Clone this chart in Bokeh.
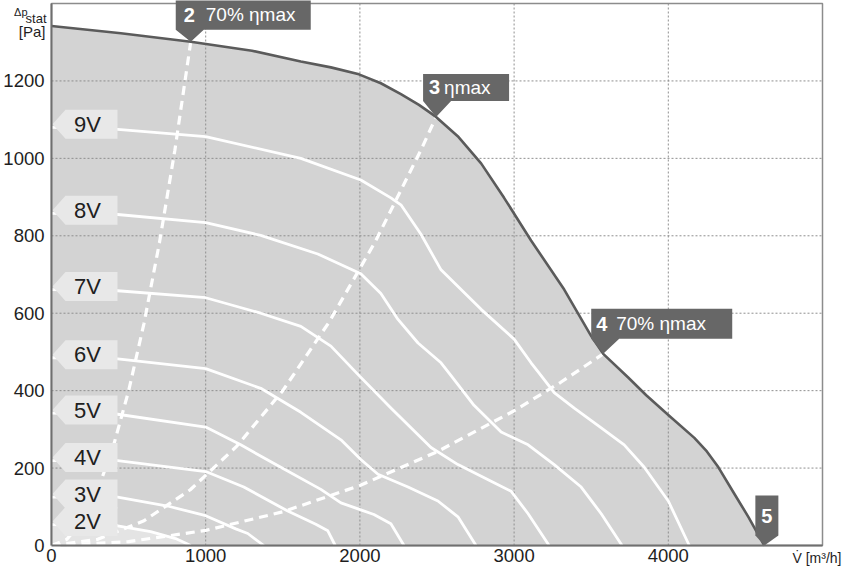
from bokeh.plotting import figure
from bokeh.models import Range1d, Label
from bokeh.embed import file_html
from bokeh.resources import INLINE
from bokeh.core.properties import value

# ---------------- data ----------------
X_TICKS = [0, 1000, 2000, 3000, 4000]
Y_TICKS = [0, 200, 400, 600, 800, 1000, 1200]

# maximum curve (fan characteristic envelope)
max_v = [0, 450, 903, 1300, 1617, 1812, 1994, 2136, 2266, 2383, 2494, 2640, 2786, 2935,
         3110, 3325, 3500, 3578, 3740, 3857, 4000, 4169, 4250, 4325, 4429, 4519, 4623]
max_p = [1342, 1323, 1301, 1278, 1250, 1235, 1217, 1194, 1166, 1138, 1107, 1055, 987, 898,
         788, 661, 541, 495, 434, 388, 337, 278, 243, 202, 133, 74, 0]

volt_labels = ["9V", "8V", "7V", "6V", "5V", "4V", "3V", "2V"]

v9_v = [0, 429, 1000, 1617, 2006, 2201, 2266, 2396, 2526, 2786, 3000, 3110, 3175,
        3260, 3390, 3565, 3714, 3844, 4000, 4136]
v9_p = [1080, 1075, 1056, 1000, 944, 898, 880, 804, 712, 610, 533, 472, 439,
        395, 355, 304, 260, 202, 115, 0]

v8_v = [0, 429, 1000, 1357, 1727, 2006, 2136, 2247, 2377, 2526, 2591, 2740, 2916,
        3091, 3260, 3435, 3565, 3700]
v8_p = [858, 855, 834, 801, 753, 702, 651, 584, 523, 472, 439, 362, 293,
        260, 209, 151, 82, 0]

v7_v = [0, 429, 1000, 1357, 1617, 1812, 1987, 2201, 2461, 2636, 2851, 2981, 3091, 3227]
v7_p = [661, 658, 640, 600, 566, 515, 442, 355, 253, 209, 166, 140, 82, 0]

v6_v = [0, 429, 1000, 1357, 1617, 1877, 2006, 2117, 2312, 2506, 2636, 2753]
v6_p = [485, 482, 457, 406, 344, 273, 222, 184, 151, 115, 74, 0]

v5_v = [0, 429, 1000, 1227, 1487, 1747, 1877, 2006, 2091, 2201, 2286]
v5_p = [342, 339, 306, 260, 202, 145, 110, 92, 80, 56, 0]

v4_v = [0, 429, 1000, 1247, 1532, 1714, 1792, 1840]
v4_p = [219, 219, 191, 151, 89, 55, 38, 0]

v3_v = [0, 429, 753, 1000, 1195, 1273, 1377]
v3_p = [125, 125, 102, 77, 43, 31, 0]

v2_v = [0, 429, 643, 805, 903]
v2_p = [54, 51, 36, 18, 0]

# dashed efficiency system curves
eta2_v = [0, 100, 200, 300, 400, 500, 600, 700, 800, 903]
eta2_p = [0, 16, 64, 144, 255, 399, 574, 782, 1021, 1301]
eta3_v = [0, 300, 600, 900, 1200, 1500, 1800, 2100, 2400, 2494]
eta3_p = [0, 16, 64, 144, 256, 400, 577, 785, 1025, 1107]
eta4_v = [0, 500, 1000, 1500, 2000, 2500, 3000, 3300, 3578]
eta4_p = [0, 10, 39, 87, 155, 242, 348, 421, 495]

# operating point callouts
call_num = ["2", "3", "4", "5"]
call_text = ["70% ηmax", "ηmax", "70% ηmax", ""]
call_v = [903, 2494, 3578, 4623]
call_p = [1301, 1107, 495, 0]

# ---------------- layout constants ----------------
FONT = "Liberation Sans"
W, H = 842, 566
X_MAX, Y_MAX = 5000, 1400
PL, PR, PT, PB = 51, 20, 3, 21           # pixel margins of the data area inside the canvas
SX = (W - PL - PR) / X_MAX               # px per m3/h
SY = (H - PT - PB) / Y_MAX               # px per Pa
DX, DY = 1.0 / SX, 1.0 / SY              # data units per pixel

p = figure(width=W, height=H,
           x_range=Range1d(-PL * DX, X_MAX + PR * DX),
           y_range=Range1d(-PB * DY, Y_MAX + PT * DY),
           output_backend="svg", toolbar_location=None,
           min_border_left=0, min_border_right=0, min_border_top=0, min_border_bottom=0,
           background_fill_color="white", border_fill_color="white")
p.outline_line_color = None
p.grid.visible = False

for ax in (p.xaxis[0], p.yaxis[0]):
    ax.fixed_location = 0
    ax.major_tick_out = 0
    ax.major_tick_in = 0
    ax.minor_tick_out = 0
    ax.minor_tick_in = 0
    ax.axis_line_color = "#6f6f6f"
    ax.axis_line_width = 2
    ax.major_label_text_font = FONT
    ax.major_label_text_font_size = "18.5px"
    ax.major_label_text_color = "#1e1e1e"
p.xaxis.ticker = X_TICKS
p.yaxis.ticker = Y_TICKS
p.xaxis.bounds = (0, X_MAX)
p.yaxis.bounds = (0, Y_MAX)
p.xaxis.major_label_standoff = 3
p.yaxis.major_label_standoff = 7

# plot-area box
p.quad(left=[0], right=[X_MAX], bottom=[0], top=[Y_MAX], fill_color="white",
       line_color="#8c8c8c", line_width=1.5, level="image")

# envelope fill (below grid)
p.varea(x=max_v, y1=0, y2=max_p, fill_color="#d3d3d3", level="image")
p.varea(x=v2_v, y1=0, y2=v2_p, fill_color="#e4e4e4", level="image")

# dotted grid
p.segment(x0=X_TICKS[1:], y0=0, x1=X_TICKS[1:], y1=Y_MAX, line_color="#8f8f8f",
          line_width=1, line_dash="2 2", level="underlay")
p.segment(x0=0, y0=Y_TICKS[1:], x1=X_MAX, y1=Y_TICKS[1:], line_color="#8f8f8f",
          line_width=1, line_dash="2 2", level="underlay")

volt_vs = [v9_v, v8_v, v7_v, v6_v, v5_v, v4_v, v3_v, v2_v]
volt_ps = [v9_p, v8_p, v7_p, v6_p, v5_p, v4_p, v3_p, v2_p]
p.multi_line(xs=volt_vs, ys=volt_ps, line_color="white", line_width=2.8,
             line_join="round")

p.multi_line(xs=[eta2_v, eta3_v, eta4_v], ys=[eta2_p, eta3_p, eta4_p],
             line_color="white", line_width=3.2, line_dash="9 6")

p.line(max_v, max_p, line_color="#5b5b5b", line_width=2.6, line_join="round")

# voltage label tags (arrow shaped, pointing left)
TAG = [(1, 0), (14, -14.5), (66, -14.5), (66, 14.5), (14, 14.5)]
tag_xs, tag_ys, tag_yc = [], [], []
for ps in volt_ps:
    yc = ps[0] + 8
    tag_yc.append(yc)
    tag_xs.append([dx * DX for dx, dy in TAG])
    tag_ys.append([yc - dy * DY for dx, dy in TAG])
p.patches(tag_xs, tag_ys, fill_color="#e8e8e8", line_color=None)
p.text(x=[36 * DX] * len(volt_labels), y=tag_yc, text=volt_labels,
       text_align="center", text_baseline="middle", text_font_size="22px",
       text_color="#202020", text_font=value(FONT))

# callouts
SHAPES = [
    [(-15, -42), (120, -42), (120, -12), (13, -12), (0, 0), (-15, -12)],
    [(-13, -43), (73, -43), (73, -16), (15, -16), (0, 0), (-13, -16)],
    [(-12, -45), (129, -45), (129, -15), (16, -15), (0, 0), (-12, -15)],
    [(-9, -50), (14, -50), (14, -10), (0, 0), (-9, -10)],
]
NUM_POS = [(-7, -27), (-7, -29.5), (-7, -30), (2.5, -30)]
TXT_POS = [(15, -27), (8, -29.5), (13, -30), (0, 0)]

c_xs, c_ys = [], []
for v, pp, shp in zip(call_v, call_p, SHAPES):
    c_xs.append([v + dx * DX for dx, dy in shp])
    c_ys.append([pp - dy * DY for dx, dy in shp])
p.patches(c_xs, c_ys, fill_color="#676767", line_color=None)

for i in range(len(call_num)):
    nx, ny = NUM_POS[i]
    p.text(x=[call_v[i] + nx * DX], y=[call_p[i] - ny * DY], text=[call_num[i]],
           text_align="center" if call_text[i] == "" else "left", text_baseline="middle",
           text_font_size="20px", text_font_style="bold", text_color="white",
           text_font=value(FONT))
    if call_text[i]:
        tx, ty = TXT_POS[i]
        p.text(x=[call_v[i] + tx * DX], y=[call_p[i] - ty * DY], text=[call_text[i]],
               text_align="left", text_baseline="middle",
               text_font_size="19px", text_color="white", text_font=value(FONT))

# axis titles
p.add_layout(Label(x=0, y=Y_MAX, x_offset=-24, y_offset=-8, text="Δp",
                   text_align="right", text_baseline="middle", text_font_size="11px",
                   text_font=FONT, text_color="#1e1e1e"))
p.add_layout(Label(x=0, y=Y_MAX, x_offset=-5, y_offset=-15, text="stat",
                   text_align="right", text_baseline="middle", text_font_size="13px",
                   text_font=FONT, text_color="#1e1e1e"))
p.add_layout(Label(x=0, y=Y_MAX, x_offset=-6, y_offset=-28, text="[Pa]",
                   text_align="right", text_baseline="middle", text_font_size="15px",
                   text_font=FONT, text_color="#1e1e1e"))
p.add_layout(Label(x=X_MAX, y=0, x_offset=19, y_offset=-12, text="V̇ [m³/h]",
                   text_align="right", text_baseline="middle", text_font_size="14px",
                   text_font=FONT, text_color="#1e1e1e"))

open("out.html", "w").write(file_html(p, INLINE))
